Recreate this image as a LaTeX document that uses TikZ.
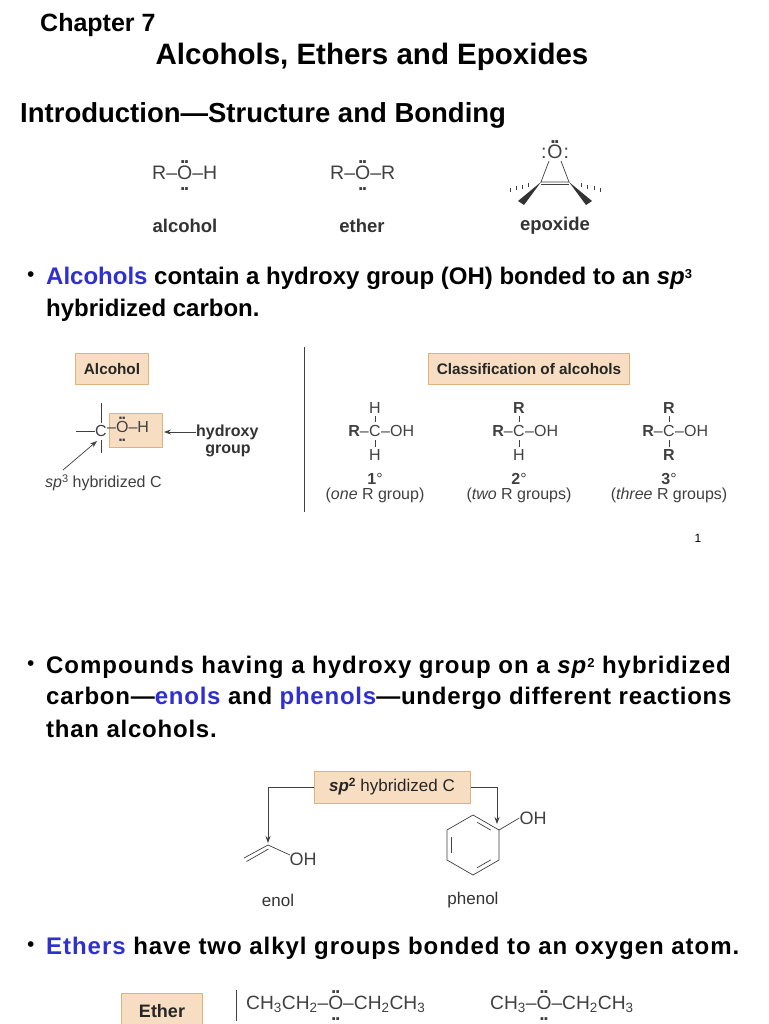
\documentclass[tikz,border=0pt]{standalone}
\usepackage{fontspec}
\setmainfont{Liberation Sans}
\usetikzlibrary{arrows.meta,calc}
\definecolor{kblue}{HTML}{3030D0}
\definecolor{boxfill}{HTML}{F7DEC2}
\definecolor{boxline}{HTML}{E2B27A}
\newcommand\Ob{\ooalign{O\cr\hidewidth\raisebox{0.8em}{\textbf{.}\kern-0.08em\textbf{.}}\hidewidth\cr\hidewidth\raisebox{-0.56em}{\textbf{.}\kern-0.08em\textbf{.}}\hidewidth\cr}}
\newcommand\Ot{\ooalign{O\cr\hidewidth\raisebox{0.8em}{\textbf{.}\kern-0.08em\textbf{.}}\hidewidth\cr}}
\newcommand\sub[1]{\textsubscript{#1}}
\begin{document}
\begin{tikzpicture}[x=1pt,y=-1pt,
  btext/.style={font=\bfseries\fontsize{24}{28}\selectfont,inner sep=0,anchor=west},
  bdot/.style={font=\fontsize{21}{24}\selectfont,inner sep=0,anchor=west},
  chem/.style={font=\fontsize{16}{18}\selectfont,inner sep=0,text=black!75},
  big/.style={font=\fontsize{19.5}{22}\selectfont,inner sep=0,text=black!75},
  lbl/.style={font=\bfseries\fontsize{18.5}{20}\selectfont,inner sep=0,text=black!80},
  tag/.style={draw=boxline,fill=boxfill,line width=1pt,font=\bfseries\fontsize{15.3}{17}\selectfont,text=black!85,minimum height=31,inner xsep=8},
  bond/.style={line width=0.7pt,draw=black!75},
  arr/.style={line width=0.7pt,draw=black!75,-{Stealth[length=7pt,width=5pt]}}]
\useasboundingbox (0,0) rectangle (768,1024);
\fill[white] (0,0) rectangle (768,1024);
\node[font=\bfseries\fontsize{25}{28}\selectfont,inner sep=0,anchor=west] (ch) at (40,25) {Chapter 7};
\node[font=\bfseries\fontsize{29.5}{31}\selectfont,inner sep=0] (ti) at (372,57) {Alcohols, Ethers and Epoxides};
\node[font=\bfseries\fontsize{27.5}{30}\selectfont,inner sep=0,anchor=west] (in) at (20,115) {Introduction—Structure and Bonding};
% alcohol / ether
\node[big,anchor=west] (al) at (152,178) {R–\Ob–H};
\node[lbl] (all) at (185,226) {alcohol};
\node[big,anchor=west] (et) at (330,178) {R–\Ob–R};
\node[lbl] (etl) at (362,226) {ether};
% epoxide
\node[big] (eo) at (555,152) {:\kern1pt\Ot\kern1pt:};
\coordinate (c1) at (541,182); \coordinate (c2) at (569,182);
\draw[bond] (549,161) -- (c1) -- (c2) -- (561,161);
\draw[bond] ($(c1)+(0,2)$) -- ($(c2)+(0,2)$);
\fill[black!80] (c1) -- (518,201) -- (524,205) -- cycle;
\fill[black!80] (c2) -- (586,205) -- (592,201) -- cycle;
\foreach \t in {0.4,0.6,0.8,1.0}{
 \draw[bond,line width=0.5pt] ($(c1)!\t!(510,190)+(0,-2)$) -- ++(0,4);
 \draw[bond,line width=0.5pt] ($(c2)!\t!(600,190)+(0,-2)$) -- ++(0,4);}
\node[lbl] (epl) at (555,226) {epoxide};
% bullet 1
\node[bdot] (b1d) at (27,277) {•};
\node[btext] (b1) at (46,278) {\textcolor{kblue}{Alcohols} contain a hydroxy group (OH) bonded to an \textit{sp}\raisebox{6pt}{\fontsize{13}{13}\selectfont 3}};
\node[btext] (b1b) at (46,310) {hybridized carbon.};
% alcohol panel
\node[tag] (abox) at (112,369) {Alcohol};
\draw[draw=boxline,fill=boxfill,line width=1pt] (109,413) rectangle (162,447);
\draw[bond] (76,431) -- (95,431);
\node[chem] (ac) at (101,431) {C};
\node[chem,anchor=west] (aoh) at (ac.east) {–\Ob–H};
\draw[bond] (101,403) -- (101,423) (101,440) -- (101,453);
\node[lbl,font=\bfseries\fontsize{16}{18}\selectfont,anchor=west] (hy) at (196,432) {hydroxy};
\node[lbl,font=\bfseries\fontsize{16}{18}\selectfont] (gr) at (228,451) {group};
\draw[arr] (hy.west) -- (164,432);
\node[chem,anchor=west] (sp3) at (45,483) {\textit{sp}\raisebox{5pt}{\fontsize{11}{11}\selectfont 3} hybridized C};
\coordinate (sp3t) at (63,470);
\draw[arr] (sp3t) -- (97,441);
\draw[bond] (304,347) -- (304,512);
\node[tag] (cbox) at (529,369) {Classification of alcohols};
\foreach \x/\tp/\bt/\n/\w/\s in {375/H/H/1/one/,519/\textbf{R}/H/2/two/s,669/\textbf{R}/\textbf{R}/3/three/s}{
 \node[chem] (cc\n) at (\x,431) {C};
 \node[chem,anchor=east] at (cc\n.west) {\textbf{R}–};
 \node[chem,anchor=west] at (cc\n.east) {–OH};
 \node[chem] at (\x,408) {\tp};
 \node[chem] at (\x,455) {\bt};
 \draw[bond] (\x,416) -- (\x,422) (\x,440) -- (\x,447);
 \node[chem] at (\x,479) {\textbf{\n}°};
 \node[chem] at (\x,495) {(\textit{\w} R group\s)};
}
\node[font=\rmfamily\fontsize{12}{14}\selectfont,inner sep=0] (pg) at (698,538) {1};
% bullet 2
\node[bdot] (b2d) at (27,666) {•};
\node[btext] (b2) at (46,667) {\addfontfeature{LetterSpace=4}Compounds having a hydroxy group on a \textit{sp}\raisebox{6pt}{\fontsize{13}{13}\selectfont 2} hybridized};
\node[btext] (b2b) at (46,698) {\addfontfeature{LetterSpace=3.2}carbon—\textcolor{kblue}{enols} and \textcolor{kblue}{phenols}—undergo different reactions};
\node[btext] (b2c) at (46,729) {\addfontfeature{LetterSpace=3.2}than alcohols.};
\node[tag,font=\fontsize{17}{19}\selectfont,minimum width=156,minimum height=32] (sbox) at (392,787) {\textbf{\textit{sp}\raisebox{5pt}{\fontsize{12}{12}\selectfont 2}} hybridized C};
\coordinate (en) at (268,843);
\draw[arr] (sbox.west) -| (en);
\coordinate (pc) at (497,824);
\draw[arr] (sbox.east) -| (pc);
% enol
\draw[bond] (268,845) -- (244,858) ($(268,845)+(0.5,4)$)--($(244,858)+(2.5,3.5)$);
\node[big,font=\fontsize{18}{20}\selectfont] (oh1) at (303,859) {OH};
\draw[bond] (268,845) -- (290,855);
\node[lbl,font=\fontsize{17}{19}\selectfont] (enl) at (278,900) {enol};
% phenol
\coordinate (ctr) at (473,845);
\coordinate (vT) at (473,815); \coordinate (vUR) at (499,830);
\coordinate (vLR) at (499,860); \coordinate (vB) at (473,875);
\coordinate (vLL) at (447,860); \coordinate (vUL) at (447,830);
\draw[bond] (vT)--(vUR)--(vLR)--(vB)--(vLL)--(vUL)--cycle;
\foreach \a/\b in {vT/vUR,vLL/vUL,vB/vLR}{
 \draw[bond] ($($(\a)!0.18!(\b)$)!4.5pt!(ctr)$) -- ($($(\a)!0.82!(\b)$)!4.5pt!(ctr)$);}
\node[big,font=\fontsize{18}{20}\selectfont] (oh2) at (533,818) {OH};
\draw[bond] (vUR) -- (oh2.west);
\node[lbl,font=\fontsize{17}{19}\selectfont] (phl) at (473,900) {phenol};
% bullet 3
\node[bdot] (b3d) at (27,947) {•};
\node[btext] (b3) at (46,948) {\addfontfeature{LetterSpace=4}\textcolor{kblue}{Ethers} have two alkyl groups bonded to an oxygen atom.};
\node[tag,font=\bfseries\fontsize{18}{20}\selectfont,minimum width=81,minimum height=36] (ebox) at (162,1011) {Ether};
\draw[bond] (236,990) -- (236,1021);
\node[big,font=\fontsize{19.2}{21}\selectfont,anchor=west] (e1) at (246,1008) {CH\sub{3}CH\sub{2}–\Ob–CH\sub{2}CH\sub{3}};
\node[big,font=\fontsize{19.2}{21}\selectfont,anchor=west] (e2) at (490,1008) {CH\sub{3}–\Ob–CH\sub{2}CH\sub{3}};
\end{tikzpicture}
\end{document}
